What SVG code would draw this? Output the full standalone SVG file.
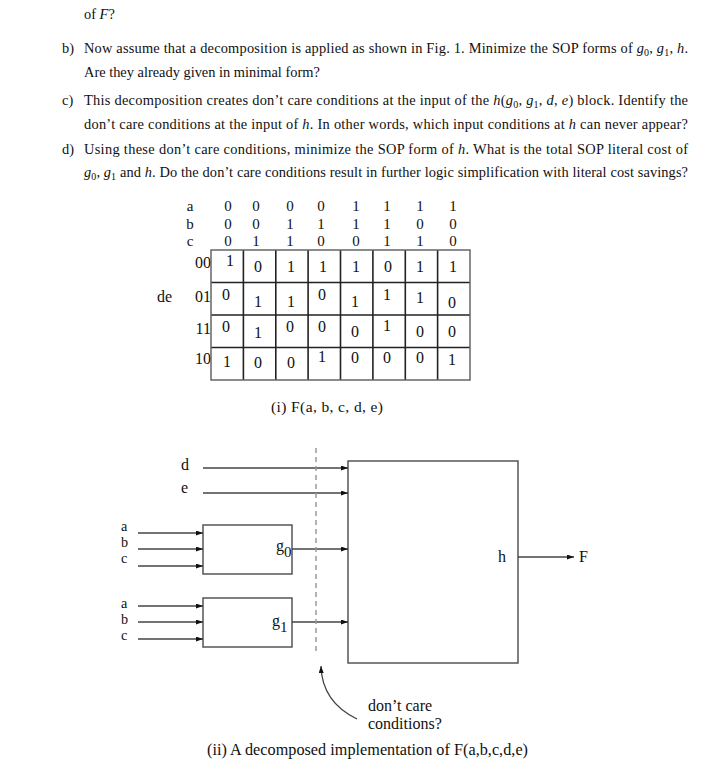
<svg xmlns="http://www.w3.org/2000/svg" width="727" height="775" viewBox="0 0 727 775">
<style>
text{font-family:"Liberation Serif","Times New Roman",serif;fill:#111}
.t{font-size:14.4px}
.i{font-style:italic}
.s{font-size:10px}
.hd{font-size:15px;text-anchor:middle}
.v{font-size:16px;text-anchor:middle}
.rl{font-size:16px;text-anchor:end}
.lbl{font-size:16px}
.in{font-size:14.2px}
.ln{stroke:#444;stroke-width:1.3;fill:none}
.box{fill:none;stroke:#555;stroke-width:1.5}
.grid{stroke:#222;stroke-width:1.6}
</style>
<defs>
<marker id="ar" markerWidth="8" markerHeight="6" refX="7" refY="2.5" orient="auto" markerUnits="userSpaceOnUse">
<path d="M0,0 L7,2.5 L0,5 z" fill="#111"/>
</marker>
</defs>
<rect width="727" height="775" fill="#fff"/>
<g id="questions">
<text class="t" x="84" y="19">of <tspan class="i">F</tspan>?</text>
<text class="t" x="62" y="53">b)</text>
<text class="t" x="84" y="53" textLength="604" lengthAdjust="spacing">Now assume that a decomposition is applied as shown in Fig. 1. Minimize the SOP forms of <tspan class="i">g</tspan><tspan class="s" dy="2.5">0</tspan><tspan dy="-2.5">, </tspan><tspan class="i">g</tspan><tspan class="s" dy="2.5">1</tspan><tspan dy="-2.5">, </tspan><tspan class="i">h</tspan>.</text>
<text class="t" x="84" y="77">Are they already given in minimal form?</text>
<text class="t" x="62" y="105">c)</text>
<text class="t" x="84" y="105" textLength="604" lengthAdjust="spacing">This decomposition creates don’t care conditions at the input of the <tspan class="i">h</tspan>(<tspan class="i">g</tspan><tspan class="s" dy="2.5">0</tspan><tspan dy="-2.5">, </tspan><tspan class="i">g</tspan><tspan class="s" dy="2.5">1</tspan><tspan dy="-2.5">, </tspan><tspan class="i">d</tspan>, <tspan class="i">e</tspan>) block. Identify the</text>
<text class="t" x="84" y="129" textLength="604" lengthAdjust="spacing">don’t care conditions at the input of <tspan class="i">h</tspan>. In other words, which input conditions at <tspan class="i">h</tspan> can never appear?</text>
<text class="t" x="62" y="154">d)</text>
<text class="t" x="84" y="154" textLength="604" lengthAdjust="spacing">Using these don’t care conditions, minimize the SOP form of <tspan class="i">h</tspan>. What is the total SOP literal cost of</text>
<text class="t" x="84" y="177" textLength="604" lengthAdjust="spacing"><tspan class="i">g</tspan><tspan class="s" dy="2.5">0</tspan><tspan dy="-2.5">, </tspan><tspan class="i">g</tspan><tspan class="s" dy="2.5">1</tspan><tspan dy="-2.5"> and </tspan><tspan class="i">h</tspan>. Do the don’t care conditions result in further logic simplification with literal cost savings?</text>
</g>
<g id="truth-table">
<text class="hd" x="190" y="211">a</text>
<text class="hd" x="190" y="228.5">b</text>
<text class="hd" x="190" y="245.5">c</text>
<g>
<text class="hd" x="228" y="211">0</text><text class="hd" x="256" y="211">0</text><text class="hd" x="290" y="211">0</text><text class="hd" x="321" y="211">0</text><text class="hd" x="356" y="211">1</text><text class="hd" x="387" y="211">1</text><text class="hd" x="420" y="211">1</text><text class="hd" x="453" y="211">1</text>
<text class="hd" x="228" y="228.5">0</text><text class="hd" x="256" y="228.5">0</text><text class="hd" x="290" y="228.5">1</text><text class="hd" x="321" y="228.5">1</text><text class="hd" x="356" y="228.5">1</text><text class="hd" x="387" y="228.5">1</text><text class="hd" x="420" y="228.5">0</text><text class="hd" x="453" y="228.5">0</text>
<text class="hd" x="228" y="245.5">0</text><text class="hd" x="256" y="245.5">1</text><text class="hd" x="290" y="245.5">1</text><text class="hd" x="321" y="245.5">0</text><text class="hd" x="356" y="245.5">0</text><text class="hd" x="387" y="245.5">1</text><text class="hd" x="420" y="245.5">1</text><text class="hd" x="453" y="245.5">0</text>
</g>
<text class="lbl" x="157" y="302">de</text>
<text class="rl" x="211" y="268">00</text>
<text class="rl" x="211" y="302">01</text>
<text class="rl" x="211" y="334">11</text>
<text class="rl" x="211" y="364">10</text>
<g>
<line class="grid" x1="211" y1="282.5" x2="470" y2="282.5"/>
<line class="grid" x1="211" y1="315" x2="470" y2="315"/>
<line class="grid" x1="211" y1="347.5" x2="470" y2="347.5"/>
<line class="grid" x1="243.4" y1="250" x2="243.4" y2="380"/>
<line class="grid" x1="275.8" y1="250" x2="275.8" y2="380"/>
<line class="grid" x1="308.1" y1="250" x2="308.1" y2="380"/>
<line class="grid" x1="340.5" y1="250" x2="340.5" y2="380"/>
<line class="grid" x1="372.9" y1="250" x2="372.9" y2="380"/>
<line class="grid" x1="405.3" y1="250" x2="405.3" y2="380"/>
<line class="grid" x1="437.6" y1="250" x2="437.6" y2="380"/>
<rect x="211" y="250" width="259" height="130" fill="none" stroke="#666" stroke-width="1.5"/>
</g>
<text class="v" x="230" y="265.5">1</text><text class="v" x="258" y="272">0</text><text class="v" x="291" y="272">1</text><text class="v" x="323" y="272">1</text><text class="v" x="356" y="272">1</text><text class="v" x="388" y="272">0</text><text class="v" x="420" y="272">1</text><text class="v" x="453" y="272">1</text>
<text class="v" x="226" y="300">0</text><text class="v" x="258" y="307">1</text><text class="v" x="291" y="307">1</text><text class="v" x="322" y="300">0</text><text class="v" x="355" y="307">1</text><text class="v" x="387" y="300">1</text><text class="v" x="420" y="303">1</text><text class="v" x="452" y="308">0</text>
<text class="v" x="226" y="332">0</text><text class="v" x="258" y="338">1</text><text class="v" x="290" y="332">0</text><text class="v" x="322" y="332">0</text><text class="v" x="355" y="337">0</text><text class="v" x="387" y="331">1</text><text class="v" x="420" y="337">0</text><text class="v" x="452" y="337">0</text>
<text class="v" x="227" y="367">1</text><text class="v" x="258" y="368">0</text><text class="v" x="291" y="368">0</text><text class="v" x="322" y="362">1</text><text class="v" x="355" y="363">0</text><text class="v" x="387" y="363">0</text><text class="v" x="420" y="363">0</text><text class="v" x="452" y="365">1</text>
<text x="271" y="412" font-size="15.5px" textLength="112" lengthAdjust="spacing">(i)  F(a, b, c, d, e)</text>
</g>
<g id="g0">
<rect class="box" x="203" y="525" width="89" height="49"/>
<text class="lbl" x="276" y="551" font-size="17px">g<tspan dy="6" font-size="15px">0</tspan></text>
</g>
<g id="g1">
<rect class="box" x="203" y="598" width="89" height="49"/>
<text class="lbl" x="272" y="626" font-size="17px">g<tspan dy="6" font-size="15px">1</tspan></text>
</g>
<g id="h">
<rect class="box" x="348" y="461" width="170" height="202"/>
<text class="lbl" x="498" y="562">h</text>
</g>
<g id="input-labels">
<text class="lbl" x="181" y="470">d</text>
<text class="lbl" x="181" y="493">e</text>
<text class="in" x="121" y="531">a</text>
<text class="in" x="121" y="547">b</text>
<text class="in" x="121" y="563">c</text>
<text class="in" x="121" y="608">a</text>
<text class="in" x="121" y="624">b</text>
<text class="in" x="121" y="640">c</text>
<text class="lbl" x="579" y="562">F</text>
</g>
<g id="connectors">
<line class="ln" x1="203" y1="468" x2="348" y2="468" marker-end="url(#ar)"/>
<line class="ln" x1="203" y1="493" x2="348" y2="493" marker-end="url(#ar)"/>
<line class="ln" x1="138" y1="533" x2="203" y2="533" marker-end="url(#ar)"/>
<line class="ln" x1="138" y1="549" x2="203" y2="549" marker-end="url(#ar)"/>
<line class="ln" x1="138" y1="566" x2="203" y2="566" marker-end="url(#ar)"/>
<line class="ln" x1="138" y1="606" x2="203" y2="606" marker-end="url(#ar)"/>
<line class="ln" x1="138" y1="622" x2="203" y2="622" marker-end="url(#ar)"/>
<line class="ln" x1="138" y1="639" x2="203" y2="639" marker-end="url(#ar)"/>
<line class="ln" x1="292" y1="549" x2="348" y2="549" marker-end="url(#ar)"/>
<line class="ln" x1="292" y1="622" x2="348" y2="622" marker-end="url(#ar)"/>
<line class="ln" x1="518" y1="557" x2="574" y2="557" marker-end="url(#ar)"/>
<line x1="316" y1="448" x2="316" y2="654" stroke="#999" stroke-width="1.5" stroke-dasharray="5,4"/>
<path class="ln" d="M357,719 Q322,702 321,666" marker-end="url(#ar)"/>
</g>
<g id="notes">
<text class="lbl" x="368" y="711">don’t care</text>
<text class="lbl" x="368" y="729">conditions?</text>
<text x="207" y="755" font-size="16.2px" textLength="321" lengthAdjust="spacing">(ii) A decomposed implementation of F(a,b,c,d,e)</text>
</g>
</svg>
